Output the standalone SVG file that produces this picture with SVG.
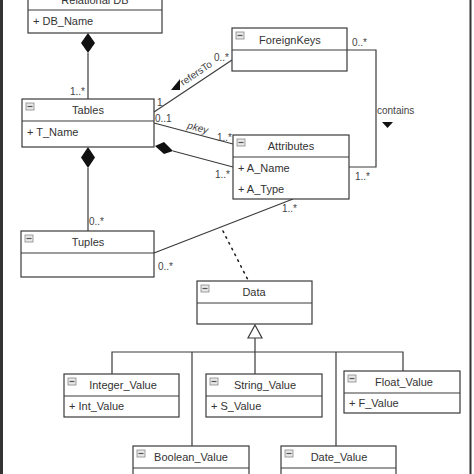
<svg xmlns="http://www.w3.org/2000/svg" width="474" height="474" viewBox="0 0 474 474">
<style>
  .box { fill: #ffffff; stroke: #3a3a3a; stroke-width: 1.2; }
  .div { stroke: #3a3a3a; stroke-width: 1.2; }
  .t { font-family: "Liberation Sans", Arial, sans-serif; font-size: 11px; fill: #333; }
  .c { text-anchor: middle; }
  .lbl { font-family: "Liberation Sans", Arial, sans-serif; font-size: 10px; fill: #444; }
  .ln { fill: none; stroke: #3a3a3a; stroke-width: 1.2; }
  .dot { fill: none; stroke: #222; stroke-width: 1.6; stroke-dasharray: 1.5 5; stroke-linecap: round; }
</style>
<defs>
  <g id="ico">
    <rect x="0" y="0" width="8" height="7" fill="#e8e8e8" stroke="#888" stroke-width="0.8"/>
    <line x1="1.5" y1="3.5" x2="6.5" y2="3.5" stroke="#555" stroke-width="1.2"/>
  </g>
</defs>
<rect width="474" height="474" fill="#ffffff"/>
<line x1="1.5" y1="0" x2="1.5" y2="474" stroke="#333" stroke-width="3"/>
<line x1="470.5" y1="0" x2="470.5" y2="474" stroke="#333" stroke-width="2"/>

<g id="connectors">
  <!-- RelationalDB - Tables composition -->
  <line class="ln" x1="88" y1="53" x2="88" y2="99"/>
  <polygon points="88,33 95,43 88,53 81,43" fill="#111"/>
  <text class="lbl" x="70" y="95">1..*</text>
  <!-- Tables - Tuples composition -->
  <line class="ln" x1="88" y1="168" x2="88" y2="231"/>
  <polygon points="88,147 95,157.5 88,168 81,157.5" fill="#111"/>
  <text class="lbl" x="89" y="225">0..*</text>
  <!-- refersTo -->
  <line class="ln" x1="154" y1="112" x2="232" y2="60"/>
  <text class="lbl" x="157" y="106">1</text>
  <text class="lbl" x="214" y="61">0..*</text>
  <text class="lbl c" transform="translate(198,76) rotate(-34)">refersTo</text>
  <polygon points="171,90 180,79 180,90" fill="#111"/>
  <!-- pkey -->
  <line class="ln" x1="154" y1="123" x2="233" y2="144"/>
  <text class="lbl" x="155" y="122">0..1</text>
  <text class="lbl c" font-style="italic" transform="translate(197,131) rotate(15)">pkey</text>
  <text class="lbl" x="217" y="141">1..*</text>
  <!-- Tables - Attributes composition -->
  <line class="ln" x1="173" y1="151" x2="233" y2="167"/>
  <polygon points="155,146 164,142 173,151 164,154" fill="#111"/>
  <text class="lbl" x="215" y="178">1..*</text>
  <!-- contains -->
  <polyline class="ln" points="347,50 376,50 376,167 349,167"/>
  <text class="lbl" x="352" y="46">0..*</text>
  <text class="lbl" x="377" y="114">contains</text>
  <polygon points="382,122 393,122 387.5,128" fill="#111"/>
  <text class="lbl" x="355" y="180">1..*</text>
  <!-- Tuples - Attributes -->
  <line class="ln" x1="154" y1="253" x2="293" y2="199"/>
  <text class="lbl" x="282" y="212">1..*</text>
  <text class="lbl" x="158" y="270">0..*</text>
  <!-- association class dotted -->
  <line class="dot" x1="223" y1="231" x2="248" y2="280"/>
  <!-- generalization -->
  <polygon points="255,325 262,338 248,338" fill="#fff" stroke="#3a3a3a" stroke-width="1.2"/>
  <line class="ln" x1="255" y1="338" x2="255" y2="374"/>
  <polyline class="ln" points="112,374 112,352 403,352 403,371"/>
  <line class="ln" x1="192" y1="352" x2="192" y2="446"/>
  <line class="ln" x1="336" y1="352" x2="336" y2="446"/>
</g>

<g id="RelationalDB">
  <rect class="box" x="28" y="-12" width="134" height="45"/>
  <line class="div" x1="28" y1="10" x2="162" y2="10"/>
  <text class="t c" x="95" y="4">Relational DB</text>
  <text class="t" x="33" y="25">+ DB_Name</text>
</g>

<g id="ForeignKeys">
  <rect class="box" x="232" y="28" width="115" height="43"/>
  <line class="div" x1="232" y1="50" x2="347" y2="50"/>
  <use href="#ico" x="236" y="32"/>
  <text class="t c" x="290" y="44">ForeignKeys</text>
</g>

<g id="Tables">
  <rect class="box" x="22" y="99" width="132" height="48"/>
  <line class="div" x1="22" y1="121" x2="154" y2="121"/>
  <use href="#ico" x="26" y="103"/>
  <text class="t c" x="88" y="114">Tables</text>
  <text class="t" x="27" y="136">+ T_Name</text>
</g>

<g id="Attributes">
  <rect class="box" x="233" y="135" width="116" height="64"/>
  <line class="div" x1="233" y1="157" x2="349" y2="157"/>
  <use href="#ico" x="237" y="139"/>
  <text class="t c" x="291" y="150">Attributes</text>
  <text class="t" x="238" y="172">+ A_Name</text>
  <text class="t" x="238" y="193">+ A_Type</text>
</g>

<g id="Tuples">
  <rect class="box" x="21" y="231" width="133" height="46"/>
  <line class="div" x1="21" y1="253" x2="154" y2="253"/>
  <use href="#ico" x="25" y="235"/>
  <text class="t c" x="88" y="246">Tuples</text>
</g>

<g id="Data">
  <rect class="box" x="197" y="281" width="115" height="43"/>
  <line class="div" x1="197" y1="303" x2="312" y2="303"/>
  <use href="#ico" x="201" y="285"/>
  <text class="t c" x="254" y="296">Data</text>
</g>

<g id="Integer_Value">
  <rect class="box" x="64" y="374" width="115" height="43"/>
  <line class="div" x1="64" y1="396" x2="179" y2="396"/>
  <use href="#ico" x="68" y="378"/>
  <text class="t c" x="123" y="389">Integer_Value</text>
  <text class="t" x="69" y="410">+ Int_Value</text>
</g>

<g id="String_Value">
  <rect class="box" x="206" y="374" width="116" height="43"/>
  <line class="div" x1="206" y1="396" x2="322" y2="396"/>
  <use href="#ico" x="210" y="378"/>
  <text class="t c" x="265" y="389">String_Value</text>
  <text class="t" x="211" y="410">+ S_Value</text>
</g>

<g id="Float_Value">
  <rect class="box" x="344" y="371" width="116" height="42"/>
  <line class="div" x1="344" y1="393" x2="460" y2="393"/>
  <use href="#ico" x="348" y="375"/>
  <text class="t c" x="404" y="386">Float_Value</text>
  <text class="t" x="349" y="407">+ F_Value</text>
</g>

<g id="Boolean_Value">
  <rect class="box" x="133" y="446" width="116" height="43"/>
  <line class="div" x1="133" y1="468" x2="249" y2="468"/>
  <use href="#ico" x="137" y="450"/>
  <text class="t c" x="191" y="461">Boolean_Value</text>
</g>

<g id="Date_Value">
  <rect class="box" x="281" y="446" width="115" height="43"/>
  <line class="div" x1="281" y1="468" x2="396" y2="468"/>
  <use href="#ico" x="285" y="450"/>
  <text class="t c" x="339" y="461">Date_Value</text>
</g>
</svg>
